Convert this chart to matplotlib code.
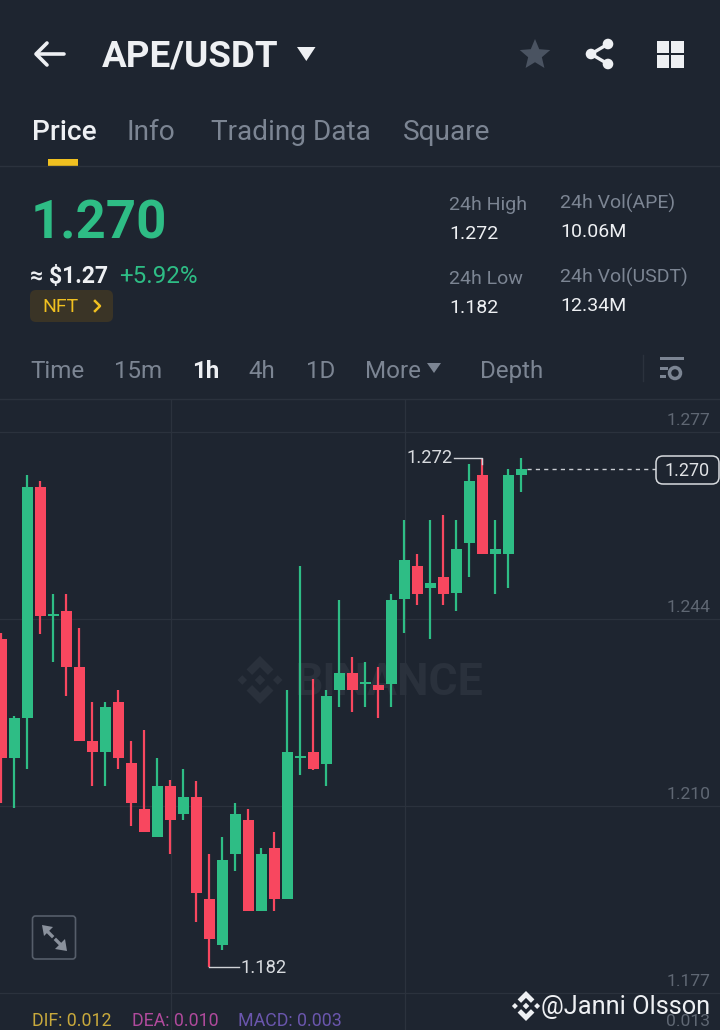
import matplotlib
matplotlib.use("Agg")
import matplotlib.pyplot as plt
import numpy as np
from matplotlib.patches import FancyBboxPatch, Polygon, Rectangle, Circle

# ---- data ----
highs = [1.2412,1.2264,1.2693,1.2683,1.2482,1.2482,1.2421,1.2289,1.2289,1.2311,1.2220,1.2240,1.2190,1.2151,1.2170,1.2149,1.2019,1.2049,1.2110,1.2099,1.2030,1.2058,1.2311,1.2532,1.2330,1.2311,1.2471,1.2370,1.2361,1.2352,1.2482,1.2613,1.2553,1.2613,1.2622,1.2613,1.2713,1.2724,1.2613,1.2704,1.2724]
tops  = [1.2402,1.2261,1.2672,1.2672,1.2446,1.2451,1.2352,1.2220,1.2281,1.2289,1.2181,1.2099,1.2140,1.2140,1.2120,1.2120,1.1939,1.2008,1.2090,1.2079,1.2019,1.2030,1.2200,1.2193,1.2200,1.2300,1.2341,1.2341,1.2325,1.2320,1.2471,1.2542,1.2532,1.2501,1.2512,1.2562,1.2683,1.2693,1.2562,1.2693,1.2704]
bots  = [1.2190,1.2190,1.2261,1.2443,1.2443,1.2352,1.2220,1.2200,1.2200,1.2190,1.2110,1.2058,1.2049,1.2079,1.2090,1.1949,1.1868,1.1857,1.2019,1.1917,1.1917,1.1939,1.1939,1.2190,1.2170,1.2179,1.2311,1.2311,1.2321,1.2311,1.2321,1.2473,1.2482,1.2492,1.2482,1.2483,1.2572,1.2553,1.2553,1.2553,1.2693]
lows  = [1.2110,1.2101,1.2170,1.2410,1.2361,1.2300,1.2220,1.2140,1.2140,1.2170,1.2069,1.2058,1.2049,1.2019,1.2079,1.1898,1.1818,1.1848,1.1989,1.1917,1.1917,1.1917,1.1939,1.2160,1.2168,1.2140,1.2281,1.2272,1.2281,1.2261,1.2281,1.2412,1.2462,1.2402,1.2462,1.2451,1.2512,1.2553,1.2482,1.2492,1.2663]
rising = [0,1,1,0,1,0,0,0,1,0,0,0,1,0,1,0,0,1,1,0,1,0,1,1,0,1,1,0,1,0,1,1,0,1,0,1,1,0,1,1,1]
axis_prices = [1.2770,1.2437,1.2104,1.1771]
axis_labels = ["1.277","1.244","1.210","1.177"]
last_price = 1.2704
high_price, low_price = 1.2724, 1.1818
tabs = ["Price","Info","Trading Data","Square"]
intervals = ["Time","15m","1h","4h","1D","More","Depth"]

BG="#1e2530"; GREEN="#2ebd85"; RED="#f8475f"; GRAY="#7c8593"; WHITE="#eef0f3"; GRID="#2b323d"; YEL="#f0c020"
plt.rcParams['font.family']=['Roboto','DejaVu Sans']

W,H=720,1030
fig=plt.figure(figsize=(W/100,H/100),dpi=100,facecolor=BG)

# ---- layers: watermark below, chart in the middle, interface on top ----
back=fig.add_axes([0,0,1,1],facecolor=BG,zorder=0)
back.set_xlim(0,W); back.set_ylim(H,0); back.axis('off')

ax=fig.add_axes([0,0,1,630/1030],facecolor='none',zorder=1)
ax.set_xlim(-1.4/13,718.6/13)
ax.set_ylim(1.1706,1.2827)
for s in ax.spines.values(): s.set_visible(False)
ax.tick_params(length=0,labelbottom=False,labelleft=False)
ax.set_yticks(axis_prices)
ax.set_xticks([13.03,31.03])
ax.grid(True,color=GRID,lw=0.9,zorder=0)
ax.set_axisbelow(True)

idx=np.arange(len(highs))
colors=[GREEN if r else RED for r in rising]
ax.vlines(idx,lows,highs,colors=colors,lw=1.6,zorder=3)
ax.bar(idx,np.array(tops)-np.array(bots),bottom=bots,width=0.86,color=colors,zorder=3,linewidth=0)

ax.plot([40.45,50.4],[last_price]*2,color="#c8ccd2",lw=1,dashes=(3,3),zorder=2)
ax.plot([34.8,37,37],[high_price,high_price,high_price-0.0010],color="#cfd2d6",lw=1,zorder=4)
ax.plot([16,18.3],[low_price,low_price],color="#cfd2d6",lw=1,zorder=4)
ax.text(34.7,high_price-0.0001,"1.272",color="#d8dbdf",fontsize=13.2,ha='right',va='center',zorder=5)
ax.text(18.4,low_price-0.0001,"1.182",color="#d8dbdf",fontsize=13.2,ha='left',va='center',zorder=5)
for p,l in zip(axis_prices,axis_labels):
    ax.text(54.55,p+0.0021,l,color="#5f6773",fontsize=12.6,ha='right',va='center',zorder=5)

ui=fig.add_axes([0,0,1,1],facecolor='none',zorder=2)
ui.set_xlim(0,W); ui.set_ylim(H,0); ui.axis('off')
def T(x,y,s,c=WHITE,fs=13,ha='left',w='normal',a=None,**k):
    (a or ui).text(x,y+fs*0.14,s,color=c,fontsize=fs,ha=ha,va='center',fontweight=w,**k)
def logo(a,cx,cy,r,col):
    top=np.array([[0,-1],[.56,-.44],[.33,-.21],[0,-.54],[-.33,-.21],[-.56,-.44]])
    parts=[top,top*[1,-1]]
    for dx,h in [(0,.22),(-.74,.2),(.74,.2)]:
        parts.append(np.array([[dx,-h],[dx+h,0],[dx,h],[dx-h,0]]))
    for p in parts:
        a.add_patch(Polygon(p*r+[cx,cy],color=col,lw=0))

# header
ui.plot([37,64],[54,54],color=WHITE,lw=2.6,solid_capstyle='round')
ui.plot([47,36,47],[43,54,65],color=WHITE,lw=2.6,solid_capstyle='round',solid_joinstyle='round')
T(102,53,"APE/USDT",fs=26.5,w='bold')
ui.add_patch(Polygon([[297,47],[315.5,47],[306.3,61]],color=WHITE,lw=0))
ang=np.deg2rad(np.arange(0,360,36)-90)
rad=np.where(np.arange(10)%2==0,16,7.2)
ui.add_patch(Polygon(np.c_[535+rad*np.cos(ang),55+rad*np.sin(ang)],color="#4a5361",lw=0))
ui.plot([608,591,608],[44,54,64],color=WHITE,lw=2.4)
for c in [(608,44),(591,54),(608,64)]:
    ui.add_patch(Circle(c,5.3,color=WHITE,lw=0))
for x0 in (656.5,671):
    for y0 in (40.5,55):
        ui.add_patch(Rectangle((x0,y0),12.5,12.5,color=WHITE,lw=0))

# tabs
for x,t,c,w in zip([31.5,126.5,211,403],tabs,[WHITE,GRAY,GRAY,GRAY],['medium','normal','normal','normal']):
    T(x,129.5,t,c=c,fs=20.2,w=w)
ui.add_patch(Rectangle((48,159),30,7,color=YEL,lw=0))
ui.plot([0,720],[166,166],color=GRID,lw=1)

# price block
T(31,219,"1.270",c=GREEN,fs=38,w='bold')
T(30,274,"≈ $1.27",fs=16.6,w='bold')
T(119,274,"+5.92%",c=GREEN,fs=17.4)
ui.add_patch(FancyBboxPatch((30,290),83,32,boxstyle="round,pad=0,rounding_size=6",fc="#3a3426",ec="none"))
T(42,305,"NFT",c=YEL,fs=14)
ui.plot([95,100,95],[301,306,311],color=YEL,lw=1.8)

T(449,203,"24h High",c=GRAY,fs=14)
T(449,232,"1.272",fs=14)
T(560,201,"24h Vol(APE)",c=GRAY,fs=14)
T(560,230,"10.06M",fs=14)
T(449,277,"24h Low",c=GRAY,fs=14)
T(449,306,"1.182",fs=14)
T(560,275,"24h Vol(USDT)",c=GRAY,fs=14)
T(560,304,"12.34M",fs=14)

# interval row
for x,t in zip([30,114,192,248,306,365,480],intervals):
    T(x,369,t,c=WHITE if t=="1h" else GRAY,fs=17.4,w='bold' if t=="1h" else 'normal')
ui.add_patch(Polygon([[427,363],[441,363],[434,373]],color=GRAY,lw=0))
ui.plot([642.5,642.5],[355,381],color=GRID,lw=1)
ui.add_patch(Rectangle((660,357),24,3,color=GRAY,lw=0))
ui.add_patch(Rectangle((660,367),8,3,color=GRAY,lw=0))
ui.add_patch(Rectangle((660,375),6,3,color=GRAY,lw=0))
ui.add_patch(Circle((675,373),5.5,fc="none",ec=GRAY,lw=2.5))
ui.plot([0,720],[399,399],color=GRID,lw=1)

# watermark, under the candles
WM="#2a313c"
logo(back,260,680,24,WM)
T(294,679,"BINANCE",c=WM,fs=32,w='bold',a=back)

# last price box
ui.add_patch(FancyBboxPatch((656,456),63,28,boxstyle="round,pad=0,rounding_size=7",fc=BG,ec="#d8dbdf",lw=1.1))
T(687.5,469,"1.270",c="#e0e2e5",fs=13,ha='center')

# expand button
EC="#8a919c"
ui.add_patch(FancyBboxPatch((32.5,916),43,43,boxstyle="round,pad=0,rounding_size=3",fc="none",ec="#565e6a",lw=1.2))
ui.plot([46,52],[930,936],color=EC,lw=2.4)
ui.plot([56,62],[940,946],color=EC,lw=2.4)
ui.add_patch(Polygon([[42,925],[53,927],[44,936]],color=EC,lw=0))
ui.add_patch(Polygon([[67,951],[55,949],[65,939]],color=EC,lw=0))

# macd line
T(32,1019.5,"DIF: 0.012",c="#c8a93c",fs=12.8)
T(132,1019.5,"DEA: 0.010",c="#b04a9c",fs=12.8)
T(238,1019.5,"MACD: 0.003",c="#6a56ad",fs=12.8)
T(710,1019.5,"0.013",c="#5f6773",fs=12.6,ha='right')

# credit
logo(ui,526,1006,15,WHITE)
T(541,1004.5,"@Janni Olsson",fs=18.3)

fig.savefig("out.png",dpi=100,facecolor=BG)
